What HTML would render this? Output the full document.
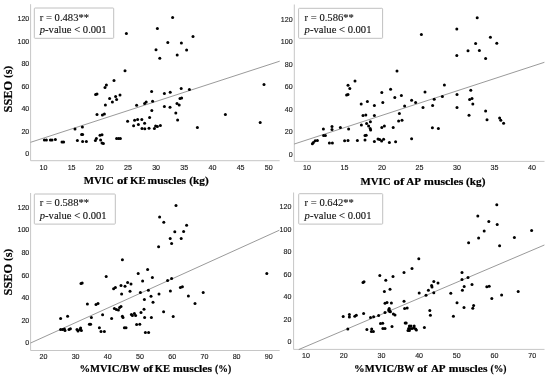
<!DOCTYPE html>
<html lang="en"><head><meta charset="utf-8"><title>SSEO scatter plots</title>
<style>
html,body{margin:0;padding:0;background:#fff}
body{width:550px;height:380px;overflow:hidden}
svg{display:block}
.t{font-family:"Liberation Sans",Arial,sans-serif;font-size:7.1px;fill:#1c1c1c;stroke:#1c1c1c;stroke-width:0.14px}
.r{font-family:"Liberation Serif","Times New Roman",serif;font-size:10.6px;fill:#111;stroke:#111;stroke-width:0.12px}
.b{font-family:"Liberation Serif","Times New Roman",serif;font-weight:bold;font-size:10.8px;fill:#000;stroke:#000;stroke-width:0.2px}
.y{font-family:"Liberation Serif","Times New Roman",serif;font-weight:bold;font-size:12px;fill:#000;stroke:#000;stroke-width:0.2px}
</style></head><body>
<svg width="550" height="380" viewBox="0 0 550 380">
<rect width="550" height="380" fill="#fff"/>
<path d="M30.6 4.2V160.7H279.7" fill="none" stroke="#c6c6c6" stroke-width="1"/>
<path d="M294.3 4.5V161.4H544.5" fill="none" stroke="#c6c6c6" stroke-width="1"/>
<path d="M30.6 193V350.5H279.7" fill="none" stroke="#c6c6c6" stroke-width="1"/>
<path d="M293.6 192.5V349.4H544.5" fill="none" stroke="#c6c6c6" stroke-width="1"/>
<line x1="30.6" y1="142.3" x2="279.7" y2="61.2" stroke="#787878" stroke-width="0.75"/>
<line x1="294.3" y1="144.0" x2="544.4" y2="62.3" stroke="#787878" stroke-width="0.75"/>
<line x1="30.6" y1="343" x2="279.4" y2="230.2" stroke="#787878" stroke-width="0.75"/>
<line x1="298.8" y1="349.5" x2="544.4" y2="245.0" stroke="#787878" stroke-width="0.75"/>
<rect x="34.3" y="8.0" width="79.4" height="30.3" rx="0.8" fill="#fff" stroke="#c0c0c0" stroke-width="1"/>
<rect x="298.6" y="8.3" width="84" height="30" rx="0.8" fill="#fff" stroke="#c0c0c0" stroke-width="1"/>
<rect x="34.3" y="194" width="81" height="30.1" rx="0.8" fill="#fff" stroke="#c0c0c0" stroke-width="1"/>
<rect x="298.7" y="193.7" width="84" height="30.4" rx="0.8" fill="#fff" stroke="#c0c0c0" stroke-width="1"/>
<text class="r" x="39.8" y="20.8">r = 0.483**</text>
<text class="r" x="39.8" y="33.4"><tspan font-style="italic">p</tspan>-value &lt; 0.001</text>
<text class="r" x="304.6" y="20.8">r = 0.586**</text>
<text class="r" x="304.6" y="33.4"><tspan font-style="italic">p</tspan>-value &lt; 0.001</text>
<text class="r" x="39.8" y="206.2">r = 0.588**</text>
<text class="r" x="39.8" y="218.8"><tspan font-style="italic">p</tspan>-value &lt; 0.001</text>
<text class="r" x="304.6" y="206">r = 0.642**</text>
<text class="r" x="304.6" y="218.8"><tspan font-style="italic">p</tspan>-value &lt; 0.001</text>
<text class="t" text-anchor="end" x="29.3" y="21.4">120</text>
<text class="t" text-anchor="end" x="29.3" y="43.9">100</text>
<text class="t" text-anchor="end" x="29.3" y="66.3">80</text>
<text class="t" text-anchor="end" x="29.3" y="88.8">60</text>
<text class="t" text-anchor="end" x="29.3" y="111.2">40</text>
<text class="t" text-anchor="end" x="29.3" y="133.7">20</text>
<text class="t" text-anchor="end" x="29.3" y="156.2">0</text>
<text class="t" text-anchor="end" x="292.6" y="21.9">120</text>
<text class="t" text-anchor="end" x="292.6" y="44.3">100</text>
<text class="t" text-anchor="end" x="292.6" y="66.8">80</text>
<text class="t" text-anchor="end" x="292.6" y="89.3">60</text>
<text class="t" text-anchor="end" x="292.6" y="111.8">40</text>
<text class="t" text-anchor="end" x="292.6" y="134.3">20</text>
<text class="t" text-anchor="end" x="292.6" y="156.8">0</text>
<text class="t" text-anchor="end" x="29.3" y="209.8">120</text>
<text class="t" text-anchor="end" x="29.3" y="232.4">100</text>
<text class="t" text-anchor="end" x="29.3" y="255.0">80</text>
<text class="t" text-anchor="end" x="29.3" y="277.6">60</text>
<text class="t" text-anchor="end" x="29.3" y="300.2">40</text>
<text class="t" text-anchor="end" x="29.3" y="322.8">20</text>
<text class="t" text-anchor="end" x="29.3" y="345.4">0</text>
<text class="t" text-anchor="end" x="291.4" y="209.0">120</text>
<text class="t" text-anchor="end" x="291.4" y="231.5">100</text>
<text class="t" text-anchor="end" x="291.4" y="254.1">80</text>
<text class="t" text-anchor="end" x="291.4" y="276.6">60</text>
<text class="t" text-anchor="end" x="291.4" y="299.2">40</text>
<text class="t" text-anchor="end" x="291.4" y="321.7">20</text>
<text class="t" text-anchor="end" x="291.4" y="344.2">0</text>
<text class="t" text-anchor="middle" x="43.4" y="169.6">10</text>
<text class="t" text-anchor="middle" x="71.6" y="169.6">15</text>
<text class="t" text-anchor="middle" x="99.7" y="169.6">20</text>
<text class="t" text-anchor="middle" x="127.9" y="169.6">25</text>
<text class="t" text-anchor="middle" x="156.1" y="169.6">30</text>
<text class="t" text-anchor="middle" x="184.3" y="169.6">35</text>
<text class="t" text-anchor="middle" x="212.4" y="169.6">40</text>
<text class="t" text-anchor="middle" x="240.6" y="169.6">45</text>
<text class="t" text-anchor="middle" x="268.8" y="169.6">50</text>
<text class="t" text-anchor="middle" x="307.0" y="169.8">10</text>
<text class="t" text-anchor="middle" x="344.5" y="169.8">15</text>
<text class="t" text-anchor="middle" x="382.0" y="169.8">20</text>
<text class="t" text-anchor="middle" x="419.5" y="169.8">25</text>
<text class="t" text-anchor="middle" x="457.0" y="169.8">30</text>
<text class="t" text-anchor="middle" x="494.5" y="169.8">35</text>
<text class="t" text-anchor="middle" x="532.0" y="169.8">40</text>
<text class="t" text-anchor="middle" x="43.4" y="358.9">20</text>
<text class="t" text-anchor="middle" x="75.6" y="358.9">30</text>
<text class="t" text-anchor="middle" x="107.8" y="358.9">40</text>
<text class="t" text-anchor="middle" x="140.0" y="358.9">50</text>
<text class="t" text-anchor="middle" x="172.2" y="358.9">60</text>
<text class="t" text-anchor="middle" x="204.4" y="358.9">70</text>
<text class="t" text-anchor="middle" x="236.6" y="358.9">80</text>
<text class="t" text-anchor="middle" x="268.8" y="358.9">90</text>
<text class="t" text-anchor="middle" x="306.0" y="357.8">10</text>
<text class="t" text-anchor="middle" x="343.7" y="357.8">20</text>
<text class="t" text-anchor="middle" x="381.4" y="357.8">30</text>
<text class="t" text-anchor="middle" x="419.1" y="357.8">40</text>
<text class="t" text-anchor="middle" x="456.8" y="357.8">50</text>
<text class="t" text-anchor="middle" x="494.5" y="357.8">60</text>
<text class="t" text-anchor="middle" x="532.2" y="357.8">70</text>
<text class="b" x="83.7" y="184.2" textLength="30.2" lengthAdjust="spacingAndGlyphs">MVIC</text>
<text class="b" x="116.9" y="184.2" textLength="10.8" lengthAdjust="spacingAndGlyphs">of</text>
<text class="b" x="130.0" y="184.2" textLength="15.7" lengthAdjust="spacingAndGlyphs">KE</text>
<text class="b" x="147.6" y="184.2" textLength="38.4" lengthAdjust="spacingAndGlyphs">muscles</text>
<text class="b" x="189.3" y="184.2" textLength="19.4" lengthAdjust="spacingAndGlyphs">(kg)</text>
<text class="b" x="360.4" y="185.0" textLength="30.2" lengthAdjust="spacingAndGlyphs">MVIC</text>
<text class="b" x="393.5" y="185.0" textLength="10.8" lengthAdjust="spacingAndGlyphs">of</text>
<text class="b" x="406.2" y="185.0" textLength="14.7" lengthAdjust="spacingAndGlyphs">AP</text>
<text class="b" x="424.1" y="185.0" textLength="39.3" lengthAdjust="spacingAndGlyphs">muscles</text>
<text class="b" x="466.1" y="185.0" textLength="19.3" lengthAdjust="spacingAndGlyphs">(kg)</text>
<text class="b" x="79.4" y="372" textLength="60.6" lengthAdjust="spacingAndGlyphs">%MVIC/BW</text>
<text class="b" x="143.2" y="372" textLength="9.9" lengthAdjust="spacingAndGlyphs">of</text>
<text class="b" x="154.7" y="372" textLength="15.4" lengthAdjust="spacingAndGlyphs">KE</text>
<text class="b" x="172.9" y="372" textLength="39.1" lengthAdjust="spacingAndGlyphs">muscles</text>
<text class="b" x="215.1" y="372" textLength="16.1" lengthAdjust="spacingAndGlyphs">(%)</text>
<text class="b" x="354.1" y="372" textLength="60.5" lengthAdjust="spacingAndGlyphs">%MVIC/BW</text>
<text class="b" x="417.3" y="372" textLength="10.1" lengthAdjust="spacingAndGlyphs">of</text>
<text class="b" x="430.9" y="372" textLength="14.7" lengthAdjust="spacingAndGlyphs">AP</text>
<text class="b" x="448.8" y="372" textLength="38.7" lengthAdjust="spacingAndGlyphs">muscles</text>
<text class="b" x="490.5" y="372" textLength="15.9" lengthAdjust="spacingAndGlyphs">(%)</text>
<text class="y" text-anchor="middle" transform="translate(11.5 89.2) rotate(-90)" textLength="46.5" lengthAdjust="spacingAndGlyphs">SSEO <tspan font-size="10.6" dy="-0.6">(</tspan><tspan dy="0.6">s</tspan><tspan font-size="10.6" dy="-0.6">)</tspan></text>
<text class="y" text-anchor="middle" transform="translate(11.5 272.2) rotate(-90)" textLength="46.5" lengthAdjust="spacingAndGlyphs">SSEO <tspan font-size="10.6" dy="-0.6">(</tspan><tspan dy="0.6">s</tspan><tspan font-size="10.6" dy="-0.6">)</tspan></text>
<g fill="#000">
<circle cx="44.4" cy="140" r="1.5"/>
<circle cx="46.4" cy="140" r="1.5"/>
<circle cx="50.4" cy="140" r="1.5"/>
<circle cx="52" cy="140" r="1.5"/>
<circle cx="55.4" cy="139.4" r="1.5"/>
<circle cx="62" cy="142" r="1.5"/>
<circle cx="63.6" cy="142" r="1.5"/>
<circle cx="75" cy="129" r="1.5"/>
<circle cx="77.4" cy="140.4" r="1.5"/>
<circle cx="82.4" cy="127" r="1.5"/>
<circle cx="81.6" cy="134.6" r="1.5"/>
<circle cx="82.6" cy="134.6" r="1.5"/>
<circle cx="82.6" cy="141.4" r="1.5"/>
<circle cx="86.4" cy="141.4" r="1.5"/>
<circle cx="95.6" cy="94.4" r="1.5"/>
<circle cx="97" cy="94" r="1.5"/>
<circle cx="97" cy="114.6" r="1.5"/>
<circle cx="96.4" cy="138.4" r="1.5"/>
<circle cx="95.4" cy="140.6" r="1.5"/>
<circle cx="100" cy="135.2" r="1.5"/>
<circle cx="102" cy="134.8" r="1.5"/>
<circle cx="100.6" cy="140" r="1.5"/>
<circle cx="102" cy="143" r="1.5"/>
<circle cx="103.4" cy="143.4" r="1.5"/>
<circle cx="102.4" cy="115" r="1.5"/>
<circle cx="104.4" cy="114" r="1.5"/>
<circle cx="105.4" cy="105" r="1.5"/>
<circle cx="105" cy="87.6" r="1.5"/>
<circle cx="106.4" cy="85" r="1.5"/>
<circle cx="109.6" cy="98.4" r="1.5"/>
<circle cx="172.6" cy="17.4" r="1.5"/>
<circle cx="157.4" cy="28.6" r="1.5"/>
<circle cx="126.4" cy="33.6" r="1.5"/>
<circle cx="193" cy="36.6" r="1.5"/>
<circle cx="167.8" cy="42.6" r="1.5"/>
<circle cx="181.4" cy="43" r="1.5"/>
<circle cx="156" cy="49.8" r="1.5"/>
<circle cx="186.6" cy="50" r="1.5"/>
<circle cx="177.2" cy="55" r="1.5"/>
<circle cx="159.8" cy="58.2" r="1.5"/>
<circle cx="125" cy="70.8" r="1.5"/>
<circle cx="114" cy="80.6" r="1.5"/>
<circle cx="120" cy="95" r="1.5"/>
<circle cx="115.6" cy="96.6" r="1.5"/>
<circle cx="116.6" cy="99.6" r="1.5"/>
<circle cx="112.4" cy="102" r="1.5"/>
<circle cx="151.6" cy="91.4" r="1.5"/>
<circle cx="164.4" cy="93.6" r="1.5"/>
<circle cx="170.2" cy="92.2" r="1.5"/>
<circle cx="181.2" cy="88.6" r="1.5"/>
<circle cx="189.4" cy="89.6" r="1.5"/>
<circle cx="136.6" cy="105.2" r="1.5"/>
<circle cx="144.6" cy="103.4" r="1.5"/>
<circle cx="146.2" cy="102" r="1.5"/>
<circle cx="152.6" cy="101.2" r="1.5"/>
<circle cx="180" cy="98.4" r="1.5"/>
<circle cx="181.6" cy="98" r="1.5"/>
<circle cx="177" cy="103.4" r="1.5"/>
<circle cx="179.2" cy="105" r="1.5"/>
<circle cx="164.4" cy="106.6" r="1.5"/>
<circle cx="170" cy="107.2" r="1.5"/>
<circle cx="151.8" cy="110.4" r="1.5"/>
<circle cx="175.8" cy="113" r="1.5"/>
<circle cx="149.6" cy="117.6" r="1.5"/>
<circle cx="177.6" cy="120" r="1.5"/>
<circle cx="127.6" cy="121.2" r="1.5"/>
<circle cx="134.6" cy="120.2" r="1.5"/>
<circle cx="137.6" cy="119.6" r="1.5"/>
<circle cx="141.8" cy="119.4" r="1.5"/>
<circle cx="133.6" cy="125.8" r="1.5"/>
<circle cx="138.4" cy="124.4" r="1.5"/>
<circle cx="144.6" cy="123.2" r="1.5"/>
<circle cx="142" cy="128.4" r="1.5"/>
<circle cx="144.8" cy="128.8" r="1.5"/>
<circle cx="149" cy="128.2" r="1.5"/>
<circle cx="154.4" cy="128.6" r="1.5"/>
<circle cx="155.6" cy="126" r="1.5"/>
<circle cx="157.4" cy="126.6" r="1.5"/>
<circle cx="160.4" cy="125.4" r="1.5"/>
<circle cx="197.4" cy="127.4" r="1.5"/>
<circle cx="116.6" cy="138.4" r="1.5"/>
<circle cx="118.6" cy="138.4" r="1.5"/>
<circle cx="120.4" cy="138.4" r="1.5"/>
<circle cx="264" cy="84.6" r="1.5"/>
<circle cx="225.4" cy="114.6" r="1.5"/>
<circle cx="260.2" cy="122.6" r="1.5"/>
<circle cx="323.4" cy="129" r="1.5"/>
<circle cx="323.6" cy="135.6" r="1.5"/>
<circle cx="325.4" cy="135.4" r="1.5"/>
<circle cx="312.4" cy="143.8" r="1.5"/>
<circle cx="313.4" cy="142.4" r="1.5"/>
<circle cx="315.2" cy="140.8" r="1.5"/>
<circle cx="317.4" cy="140.4" r="1.5"/>
<circle cx="329.4" cy="143" r="1.5"/>
<circle cx="332.4" cy="143" r="1.5"/>
<circle cx="421.4" cy="34.4" r="1.5"/>
<circle cx="397" cy="71" r="1.5"/>
<circle cx="355" cy="81" r="1.5"/>
<circle cx="348" cy="85.2" r="1.5"/>
<circle cx="349.8" cy="88.4" r="1.5"/>
<circle cx="346.6" cy="95" r="1.5"/>
<circle cx="348" cy="94.4" r="1.5"/>
<circle cx="390.6" cy="89.2" r="1.5"/>
<circle cx="381.8" cy="92.6" r="1.5"/>
<circle cx="394.8" cy="97.4" r="1.5"/>
<circle cx="401.4" cy="95.4" r="1.5"/>
<circle cx="425" cy="92" r="1.5"/>
<circle cx="411.6" cy="100.2" r="1.5"/>
<circle cx="415.6" cy="102.4" r="1.5"/>
<circle cx="434.2" cy="99.2" r="1.5"/>
<circle cx="361.2" cy="104" r="1.5"/>
<circle cx="367.4" cy="101.4" r="1.5"/>
<circle cx="374.4" cy="105.6" r="1.5"/>
<circle cx="382.8" cy="102.6" r="1.5"/>
<circle cx="404.6" cy="106" r="1.5"/>
<circle cx="423" cy="107.4" r="1.5"/>
<circle cx="432.6" cy="105.4" r="1.5"/>
<circle cx="399.4" cy="113.4" r="1.5"/>
<circle cx="363" cy="115.6" r="1.5"/>
<circle cx="365.8" cy="115" r="1.5"/>
<circle cx="374.4" cy="115.4" r="1.5"/>
<circle cx="398.6" cy="121" r="1.5"/>
<circle cx="402" cy="120.2" r="1.5"/>
<circle cx="370.4" cy="121.8" r="1.5"/>
<circle cx="366.6" cy="123.6" r="1.5"/>
<circle cx="361.4" cy="125" r="1.5"/>
<circle cx="368.6" cy="126" r="1.5"/>
<circle cx="370.2" cy="128.4" r="1.5"/>
<circle cx="370.6" cy="130" r="1.5"/>
<circle cx="384.4" cy="126" r="1.5"/>
<circle cx="381.8" cy="127.6" r="1.5"/>
<circle cx="393.2" cy="127.6" r="1.5"/>
<circle cx="332" cy="126.4" r="1.5"/>
<circle cx="332" cy="129.6" r="1.5"/>
<circle cx="340.4" cy="127.6" r="1.5"/>
<circle cx="348.6" cy="129" r="1.5"/>
<circle cx="432.4" cy="127.8" r="1.5"/>
<circle cx="438.4" cy="128.6" r="1.5"/>
<circle cx="366.2" cy="135.2" r="1.5"/>
<circle cx="365" cy="135.6" r="1.5"/>
<circle cx="411.6" cy="138.8" r="1.5"/>
<circle cx="344.6" cy="140.8" r="1.5"/>
<circle cx="348" cy="140.6" r="1.5"/>
<circle cx="357.4" cy="140.6" r="1.5"/>
<circle cx="365" cy="140" r="1.5"/>
<circle cx="374.4" cy="141.4" r="1.5"/>
<circle cx="378" cy="139" r="1.5"/>
<circle cx="379.6" cy="139.4" r="1.5"/>
<circle cx="381.6" cy="141" r="1.5"/>
<circle cx="383.6" cy="139.2" r="1.5"/>
<circle cx="389.4" cy="142.4" r="1.5"/>
<circle cx="395.6" cy="141.8" r="1.5"/>
<circle cx="477.2" cy="17.8" r="1.5"/>
<circle cx="456.8" cy="29" r="1.5"/>
<circle cx="490.4" cy="37.2" r="1.5"/>
<circle cx="475.6" cy="43.6" r="1.5"/>
<circle cx="496.8" cy="43.2" r="1.5"/>
<circle cx="468" cy="50.8" r="1.5"/>
<circle cx="479.4" cy="50.4" r="1.5"/>
<circle cx="456.8" cy="55.6" r="1.5"/>
<circle cx="485.6" cy="58.6" r="1.5"/>
<circle cx="444.4" cy="85" r="1.5"/>
<circle cx="442.4" cy="96.6" r="1.5"/>
<circle cx="457" cy="94.4" r="1.5"/>
<circle cx="470.8" cy="90.2" r="1.5"/>
<circle cx="469.6" cy="99.4" r="1.5"/>
<circle cx="472" cy="98.6" r="1.5"/>
<circle cx="472.8" cy="104" r="1.5"/>
<circle cx="457" cy="107.4" r="1.5"/>
<circle cx="485.6" cy="111" r="1.5"/>
<circle cx="469" cy="115.2" r="1.5"/>
<circle cx="487" cy="119.8" r="1.5"/>
<circle cx="499.6" cy="118" r="1.5"/>
<circle cx="500.8" cy="120.2" r="1.5"/>
<circle cx="503.6" cy="123.2" r="1.5"/>
<circle cx="106.2" cy="276.6" r="1.5"/>
<circle cx="81" cy="283.6" r="1.5"/>
<circle cx="82.2" cy="283" r="1.5"/>
<circle cx="87.4" cy="304" r="1.5"/>
<circle cx="96" cy="304.4" r="1.5"/>
<circle cx="98" cy="303.6" r="1.5"/>
<circle cx="60.6" cy="318.4" r="1.5"/>
<circle cx="67.6" cy="316.2" r="1.5"/>
<circle cx="91.4" cy="317.4" r="1.5"/>
<circle cx="102.6" cy="314.8" r="1.5"/>
<circle cx="89.4" cy="324.2" r="1.5"/>
<circle cx="90.6" cy="324.2" r="1.5"/>
<circle cx="99.4" cy="327.8" r="1.5"/>
<circle cx="60.6" cy="329.6" r="1.5"/>
<circle cx="62.6" cy="329.6" r="1.5"/>
<circle cx="64.4" cy="329" r="1.5"/>
<circle cx="65" cy="330.4" r="1.5"/>
<circle cx="69" cy="329.6" r="1.5"/>
<circle cx="70.4" cy="328.8" r="1.5"/>
<circle cx="77" cy="329.6" r="1.5"/>
<circle cx="78" cy="331" r="1.5"/>
<circle cx="80" cy="329.6" r="1.5"/>
<circle cx="80.6" cy="328" r="1.5"/>
<circle cx="81.4" cy="330.6" r="1.5"/>
<circle cx="101" cy="331.4" r="1.5"/>
<circle cx="104.4" cy="331.4" r="1.5"/>
<circle cx="176" cy="205.6" r="1.5"/>
<circle cx="159.6" cy="217" r="1.5"/>
<circle cx="163.8" cy="222.2" r="1.5"/>
<circle cx="186.6" cy="225.2" r="1.5"/>
<circle cx="174.8" cy="231.8" r="1.5"/>
<circle cx="183.6" cy="231.4" r="1.5"/>
<circle cx="170.2" cy="238.4" r="1.5"/>
<circle cx="181.2" cy="238.6" r="1.5"/>
<circle cx="171.6" cy="243.6" r="1.5"/>
<circle cx="158.6" cy="246.8" r="1.5"/>
<circle cx="122.4" cy="259.8" r="1.5"/>
<circle cx="147.6" cy="269.4" r="1.5"/>
<circle cx="138.2" cy="273.6" r="1.5"/>
<circle cx="152.4" cy="277.4" r="1.5"/>
<circle cx="142.6" cy="281" r="1.5"/>
<circle cx="167.6" cy="280.4" r="1.5"/>
<circle cx="171.6" cy="278.4" r="1.5"/>
<circle cx="127.6" cy="282.4" r="1.5"/>
<circle cx="131" cy="284" r="1.5"/>
<circle cx="121" cy="285.4" r="1.5"/>
<circle cx="125" cy="286.2" r="1.5"/>
<circle cx="113.6" cy="288.8" r="1.5"/>
<circle cx="115.4" cy="287.6" r="1.5"/>
<circle cx="180.4" cy="287.4" r="1.5"/>
<circle cx="182.4" cy="286.8" r="1.5"/>
<circle cx="130" cy="291.2" r="1.5"/>
<circle cx="121.6" cy="294" r="1.5"/>
<circle cx="140.4" cy="292.4" r="1.5"/>
<circle cx="148.4" cy="290.2" r="1.5"/>
<circle cx="170.4" cy="291" r="1.5"/>
<circle cx="159" cy="294" r="1.5"/>
<circle cx="151" cy="296.2" r="1.5"/>
<circle cx="144.4" cy="299.4" r="1.5"/>
<circle cx="153" cy="302.2" r="1.5"/>
<circle cx="188.4" cy="296" r="1.5"/>
<circle cx="203.2" cy="292.4" r="1.5"/>
<circle cx="195" cy="303.6" r="1.5"/>
<circle cx="114.4" cy="308.4" r="1.5"/>
<circle cx="116.4" cy="309.4" r="1.5"/>
<circle cx="118.4" cy="310" r="1.5"/>
<circle cx="119.6" cy="307.4" r="1.5"/>
<circle cx="121" cy="306.4" r="1.5"/>
<circle cx="144" cy="309.2" r="1.5"/>
<circle cx="141" cy="312.4" r="1.5"/>
<circle cx="163.6" cy="311.8" r="1.5"/>
<circle cx="131.4" cy="314.6" r="1.5"/>
<circle cx="132.4" cy="315.6" r="1.5"/>
<circle cx="134.4" cy="313.4" r="1.5"/>
<circle cx="135.6" cy="315.4" r="1.5"/>
<circle cx="122.4" cy="316.2" r="1.5"/>
<circle cx="123" cy="317.6" r="1.5"/>
<circle cx="111.6" cy="318.4" r="1.5"/>
<circle cx="144.6" cy="317.4" r="1.5"/>
<circle cx="151.4" cy="317.6" r="1.5"/>
<circle cx="173.2" cy="316.4" r="1.5"/>
<circle cx="136.6" cy="324.4" r="1.5"/>
<circle cx="139.8" cy="324.2" r="1.5"/>
<circle cx="124.4" cy="327.8" r="1.5"/>
<circle cx="126" cy="327.8" r="1.5"/>
<circle cx="145.4" cy="332.6" r="1.5"/>
<circle cx="148.6" cy="332.6" r="1.5"/>
<circle cx="266.8" cy="273.6" r="1.5"/>
<circle cx="343.2" cy="316.6" r="1.5"/>
<circle cx="349.4" cy="314.4" r="1.5"/>
<circle cx="349.4" cy="317" r="1.5"/>
<circle cx="354.8" cy="316.3" r="1.5"/>
<circle cx="356.3" cy="315.3" r="1.5"/>
<circle cx="363.6" cy="313.6" r="1.5"/>
<circle cx="370.5" cy="317.4" r="1.5"/>
<circle cx="373.6" cy="316.8" r="1.5"/>
<circle cx="378.6" cy="315.5" r="1.5"/>
<circle cx="385" cy="312.6" r="1.5"/>
<circle cx="388.6" cy="310" r="1.5"/>
<circle cx="389.6" cy="311.6" r="1.5"/>
<circle cx="347.8" cy="329" r="1.5"/>
<circle cx="366.9" cy="329.4" r="1.5"/>
<circle cx="371.7" cy="329" r="1.5"/>
<circle cx="371.4" cy="331.4" r="1.5"/>
<circle cx="373.4" cy="331.4" r="1.5"/>
<circle cx="380.5" cy="323.5" r="1.5"/>
<circle cx="382.7" cy="323.3" r="1.5"/>
<circle cx="382.9" cy="328.4" r="1.5"/>
<circle cx="385" cy="328.4" r="1.5"/>
<circle cx="418.8" cy="258.8" r="1.5"/>
<circle cx="412" cy="268.6" r="1.5"/>
<circle cx="404" cy="272.6" r="1.5"/>
<circle cx="379.8" cy="275.4" r="1.5"/>
<circle cx="393" cy="276.4" r="1.5"/>
<circle cx="385.8" cy="280.2" r="1.5"/>
<circle cx="363" cy="282.4" r="1.5"/>
<circle cx="364" cy="281.8" r="1.5"/>
<circle cx="433.8" cy="281.4" r="1.5"/>
<circle cx="438" cy="283" r="1.5"/>
<circle cx="431.6" cy="285.4" r="1.5"/>
<circle cx="432" cy="287" r="1.5"/>
<circle cx="390" cy="289.2" r="1.5"/>
<circle cx="384.4" cy="291.6" r="1.5"/>
<circle cx="428.4" cy="290.2" r="1.5"/>
<circle cx="419.2" cy="293" r="1.5"/>
<circle cx="433.8" cy="292.8" r="1.5"/>
<circle cx="426" cy="295.2" r="1.5"/>
<circle cx="404" cy="301.2" r="1.5"/>
<circle cx="385" cy="303.2" r="1.5"/>
<circle cx="387" cy="302.6" r="1.5"/>
<circle cx="391.4" cy="303" r="1.5"/>
<circle cx="404.6" cy="308.4" r="1.5"/>
<circle cx="407.2" cy="308" r="1.5"/>
<circle cx="389.2" cy="308.6" r="1.5"/>
<circle cx="389.6" cy="310.4" r="1.5"/>
<circle cx="390.4" cy="311.8" r="1.5"/>
<circle cx="393.4" cy="314" r="1.5"/>
<circle cx="395" cy="315" r="1.5"/>
<circle cx="429.8" cy="310.6" r="1.5"/>
<circle cx="430.4" cy="315.2" r="1.5"/>
<circle cx="405.2" cy="323" r="1.5"/>
<circle cx="406.2" cy="323" r="1.5"/>
<circle cx="392" cy="326.6" r="1.5"/>
<circle cx="424.4" cy="327.4" r="1.5"/>
<circle cx="409.4" cy="326" r="1.5"/>
<circle cx="411" cy="326" r="1.5"/>
<circle cx="414.2" cy="326" r="1.5"/>
<circle cx="408.6" cy="328.6" r="1.5"/>
<circle cx="410" cy="328.6" r="1.5"/>
<circle cx="412" cy="328.6" r="1.5"/>
<circle cx="414" cy="328" r="1.5"/>
<circle cx="415.6" cy="329" r="1.5"/>
<circle cx="408" cy="330.6" r="1.5"/>
<circle cx="409.4" cy="330.6" r="1.5"/>
<circle cx="416.4" cy="330" r="1.5"/>
<circle cx="496.8" cy="204.8" r="1.5"/>
<circle cx="477.8" cy="216" r="1.5"/>
<circle cx="488.8" cy="221.4" r="1.5"/>
<circle cx="497.2" cy="224.4" r="1.5"/>
<circle cx="484.2" cy="231" r="1.5"/>
<circle cx="531.6" cy="230.4" r="1.5"/>
<circle cx="478.6" cy="238" r="1.5"/>
<circle cx="514.4" cy="237.6" r="1.5"/>
<circle cx="468.6" cy="242.8" r="1.5"/>
<circle cx="499.6" cy="245.8" r="1.5"/>
<circle cx="462" cy="272.6" r="1.5"/>
<circle cx="468" cy="277.6" r="1.5"/>
<circle cx="462" cy="279.6" r="1.5"/>
<circle cx="472" cy="284.4" r="1.5"/>
<circle cx="464.2" cy="286.6" r="1.5"/>
<circle cx="462.4" cy="290.2" r="1.5"/>
<circle cx="486.8" cy="286.8" r="1.5"/>
<circle cx="489.2" cy="286.2" r="1.5"/>
<circle cx="450.8" cy="293.2" r="1.5"/>
<circle cx="518.2" cy="291.6" r="1.5"/>
<circle cx="501.6" cy="295" r="1.5"/>
<circle cx="491.8" cy="298.4" r="1.5"/>
<circle cx="457" cy="302.8" r="1.5"/>
<circle cx="464" cy="307.4" r="1.5"/>
<circle cx="473.6" cy="305.6" r="1.5"/>
<circle cx="472.8" cy="308.2" r="1.5"/>
<circle cx="453.4" cy="316.2" r="1.5"/>
</g>
</svg>
</body></html>
